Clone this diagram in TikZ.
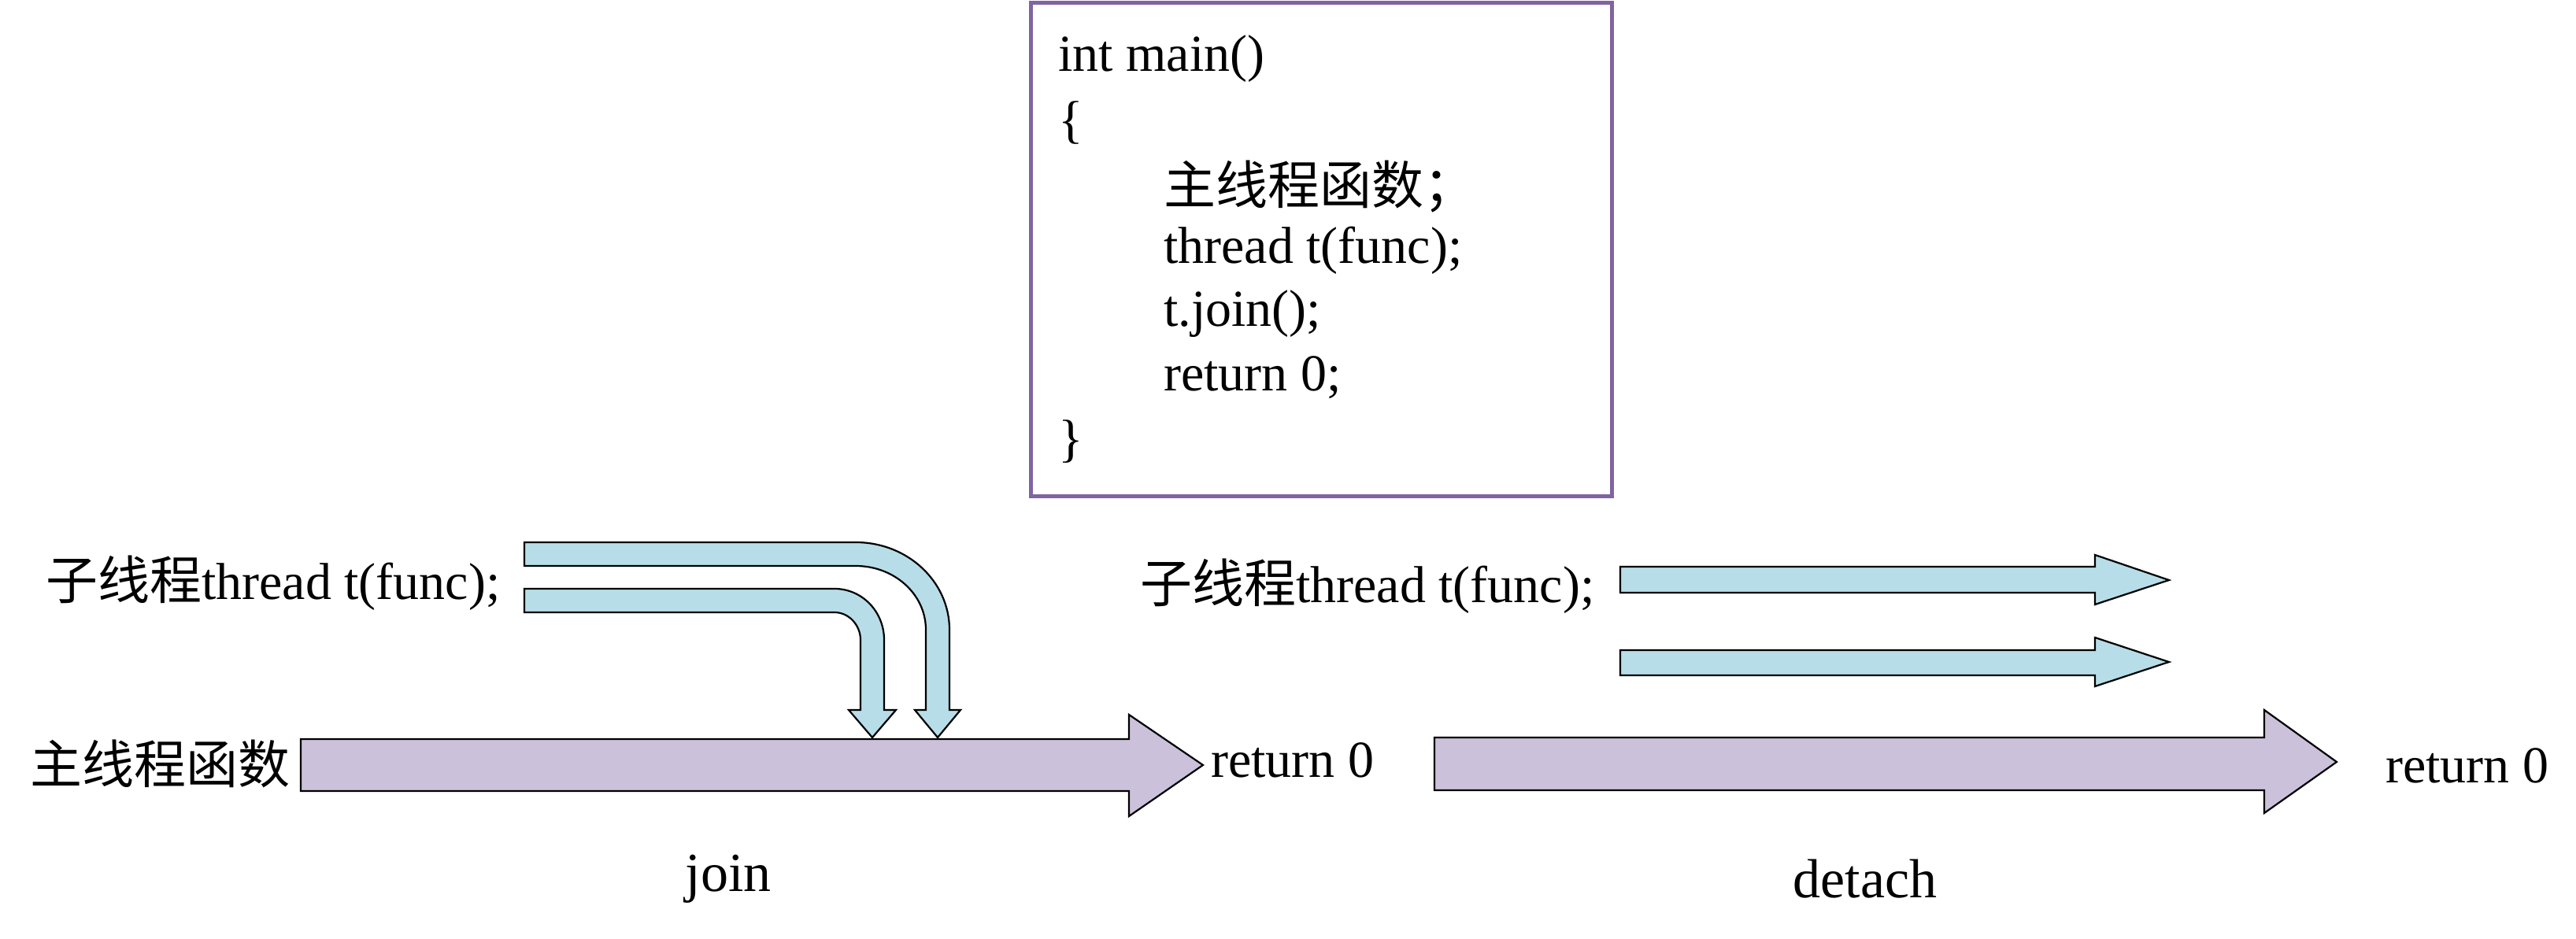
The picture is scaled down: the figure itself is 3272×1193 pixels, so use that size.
\documentclass[tikz,border=0pt]{standalone}
\usepackage{fontspec}
\setmainfont{Liberation Serif}
\newfontfamily\cjk{Noto Sans CJK SC}
\begin{document}
\begin{tikzpicture}[x=1pt,y=-1pt,
  blu/.style={fill=blueA,draw=black,line width=2.2pt,line join=miter},
  pur/.style={fill=purA,draw=black,line width=2.2pt},
  lbl/.style={inner sep=0pt,font=\fontsize{66}{78}\selectfont},
  big/.style={inner sep=0pt,font=\fontsize{70}{84}\selectfont}]
\definecolor{blueA}{HTML}{B7DDE8}
\definecolor{purA}{HTML}{CCC1DA}
\definecolor{boxC}{HTML}{8064A2}
\useasboundingbox (0,0) rectangle (3272,1193);
% code box
\draw[boxC,line width=5pt] (1309,4) rectangle (2047,630);
\node[lbl,anchor=west] (c1) at (1344,75) {int main()};
\node[lbl,anchor=west] (c2) at (1344,156) {\{};
\node[lbl,anchor=west] (c3) at (1478,237) {{\cjk 主线程函数；}};
\node[lbl,anchor=west] (c4) at (1478,318) {thread t(func);};
\node[lbl,anchor=west] (c5) at (1478,399) {t.join();};
\node[lbl,anchor=west] (c6) at (1478,480) {return 0;};
\node[lbl,anchor=west] (c7) at (1344,561) {\}};
% join side
\draw[pur] (382,939) -- (1434,939) -- (1434,908) -- (1528,972) -- (1434,1037) -- (1434,1005) -- (382,1005) -- cycle;
\draw[blu] (666,689) -- (1087,689) .. controls (1153,689) and (1206,739) .. (1206,800) -- (1206,902) -- (1220,902) -- (1191,937) -- (1162,902) -- (1176,902) -- (1176,800) .. controls (1176,755) and (1136,719) .. (1087,719) -- (666,719) -- cycle;
\draw[blu] (666,748) -- (1060,748) .. controls (1095,748) and (1123,777) .. (1123,813) -- (1123,902) -- (1138,902) -- (1108,937) -- (1078,902) -- (1093,902) -- (1093,813) .. controls (1093,794) and (1078,778) .. (1060,778) -- (666,778) -- cycle;
\node[lbl,anchor=west] (sub1) at (58,741) {{\cjk 子线程}thread t(func);};
\node[lbl,anchor=west] (main1) at (38,970) {{\cjk 主线程函数}};
\node[lbl,anchor=west] (ret1) at (1538,966) {return 0};
\node[big] (join) at (925,1117) {join};
% detach side
\draw[pur] (1822,937) -- (2876,937) -- (2876,902) -- (2968,968) -- (2876,1033) -- (2876,1004) -- (1822,1004) -- cycle;
\draw[blu] (2058,720) -- (2661,720) -- (2661,705) -- (2755,737) -- (2661,768) -- (2661,753) -- (2058,753) -- cycle;
\draw[blu] (2058,826) -- (2661,826) -- (2661,810) -- (2755,841) -- (2661,872) -- (2661,858) -- (2058,858) -- cycle;
\node[lbl,anchor=west] (sub2) at (1448,745) {{\cjk 子线程}thread t(func);};
\node[lbl,anchor=west] (ret2) at (3030,973) {return 0};
\node[big] (detach) at (2369,1117) {detach};
\end{tikzpicture}
\end{document}
